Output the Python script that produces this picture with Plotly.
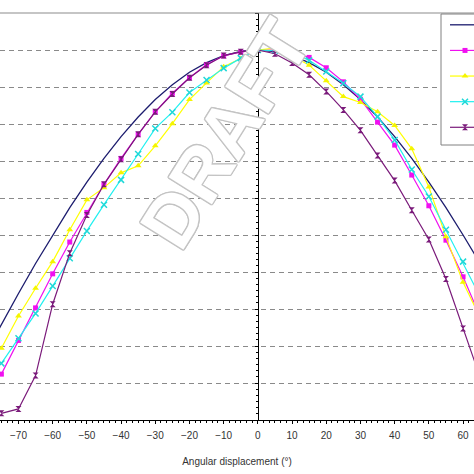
import plotly.graph_objects as go

# ---- data ----
angles_ref = [-80, -75, -70, -65, -60, -55, -50, -45, -40, -35, -30, -25, -20, -15, -10, -5,
              0, 5, 10, 15, 20, 25, 30, 35, 40, 45, 50, 55, 60, 65]
reference = [0.174, 0.259, 0.342, 0.423, 0.500, 0.574, 0.643, 0.707, 0.766, 0.819, 0.866, 0.906,
             0.940, 0.966, 0.985, 0.996, 1.000, 0.996, 0.985, 0.966, 0.940, 0.906, 0.866, 0.819,
             0.766, 0.707, 0.643, 0.574, 0.500, 0.423]

angles = [-75, -70, -65, -60, -55, -50, -45, -40, -35, -30, -25, -20, -15, -10, -5,
          0, 5, 10, 15, 20, 25, 30, 35, 40, 45, 50, 55, 60, 65]
series_a = [0.124, 0.215, 0.303, 0.395, 0.481, 0.561, 0.637, 0.707, 0.772, 0.833, 0.883, 0.925,
            0.961, 0.984, 0.995, 1.000, 1.000, 0.993, 0.980, 0.952, 0.914, 0.867, 0.805, 0.743,
            0.662, 0.579, 0.486, 0.387, 0.280]
series_b = [0.194, 0.281, 0.356, 0.428, 0.514, 0.595, 0.628, 0.668, 0.687, 0.741, 0.801, 0.866,
            0.911, 0.955, 0.977, 1.000, 1.005, 0.985, 0.959, 0.917, 0.874, 0.858, 0.833, 0.796,
            0.733, 0.630, 0.495, 0.372, 0.277]
series_c = [0.153, 0.221, 0.288, 0.362, 0.437, 0.511, 0.582, 0.649, 0.719, 0.788, 0.832, 0.885,
            0.919, 0.951, 0.978, 1.000, 0.998, 0.995, 0.972, 0.942, 0.910, 0.874, 0.820, 0.757,
            0.677, 0.604, 0.514, 0.428, 0.333]
series_d = [0.018, 0.030, 0.120, 0.313, 0.451, 0.554, 0.637, 0.705, 0.772, 0.833, 0.881, 0.925,
            0.959, 0.985, 0.995, 1.000, 0.990, 0.965, 0.933, 0.888, 0.838, 0.783, 0.715, 0.647,
            0.567, 0.488, 0.381, 0.247, 0.115]

# legend labels are cropped away in the reference; series ids kept for hover only
series_ids = ["Cosine", "Series 1", "Series 2", "Series 3", "Series 4"]

X_RANGE = [-75.4, 63.2]
Y_RANGE = [0, 1.1]
y_axis_pos = (0 - X_RANGE[0]) / (X_RANGE[1] - X_RANGE[0])

FIG_W = 474
FIG_H = 474
MT, MB = 13, 54
PLOT_H = FIG_H - MT - MB


def py(px):
    """page pixel (from top) -> paper y"""
    return (FIG_H - MB - px) / PLOT_H


blank = "\u00a0"
fig = go.Figure()
fig.add_trace(go.Scatter(x=angles_ref, y=reference, name=blank, mode="lines",
                         hovertemplate=series_ids[0] + ": %{y}<extra></extra>",
                         line=dict(color="#1c1c6e", width=1.3)))
fig.add_trace(go.Scatter(x=angles, y=series_a, name=blank, mode="lines+markers",
                         hovertemplate=series_ids[1] + ": %{y}<extra></extra>",
                         line=dict(color="#f010f0", width=1.2),
                         marker=dict(symbol="square", size=5, color="#f010f0")))
fig.add_trace(go.Scatter(x=angles, y=series_b, name=blank, mode="lines+markers",
                         hovertemplate=series_ids[2] + ": %{y}<extra></extra>",
                         line=dict(color="#ffff00", width=1.2),
                         marker=dict(symbol="triangle-up", size=6, color="#f5f500")))
fig.add_trace(go.Scatter(x=angles, y=series_c, name=blank, mode="lines+markers",
                         hovertemplate=series_ids[3] + ": %{y}<extra></extra>",
                         line=dict(color="#20f0f0", width=1.2),
                         marker=dict(symbol="x-thin", size=6, color="#20e0e0",
                                     line=dict(color="#20d8d8", width=1.5))))
fig.add_trace(go.Scatter(x=angles, y=series_d, name=blank, mode="lines+markers",
                         hovertemplate=series_ids[4] + ": %{y}<extra></extra>",
                         line=dict(color="#7a1a7a", width=1.2),
                         marker=dict(symbol="hourglass", size=6, color="#7a1a7a")))

tickfont = dict(family="Liberation Sans, Arial, sans-serif", size=10, color="#333333")

fig.update_layout(
    width=FIG_W, height=FIG_H,
    margin=dict(l=0, r=0, t=MT, b=MB, autoexpand=False),
    paper_bgcolor="white", plot_bgcolor="white",
    showlegend=True,
    legend=dict(x=445 / FIG_W, y=py(7), xanchor="left", yanchor="top",
                bgcolor="rgba(0,0,0,0)", borderwidth=0,
                font=dict(family="Liberation Sans, Arial, sans-serif", size=17.4, color="#333333"),
                tracegroupgap=0),
    xaxis=dict(range=X_RANGE, tick0=0, dtick=10, showgrid=False, zeroline=False,
               showline=True, linecolor="black", linewidth=1,
               ticks="outside", ticklen=3, tickcolor="black", tickwidth=1,
               minor=dict(ticks="outside", ticklen=2, dtick=10 / 6, tickcolor="black"),
               tickfont=tickfont, ticklabelstandoff=3,
               title=dict(text="Angular displacement (°)", font=tickfont, standoff=17),
               anchor="y"),
    xaxis2=dict(range=X_RANGE, overlaying="x", anchor="y", side="bottom",
                tick0=0, dtick=10, showgrid=False, zeroline=False, showline=False,
                ticks="inside", ticklen=3, tickcolor="black", showticklabels=False,
                minor=dict(ticks="inside", ticklen=2, dtick=10 / 6, tickcolor="black")),
    yaxis=dict(range=Y_RANGE, tick0=0, dtick=0.1, showgrid=True, gridcolor="#8a8a8a",
               gridwidth=1, griddash="5px,4px", zeroline=False, showticklabels=False,
               anchor="free", position=y_axis_pos,
               showline=True, linecolor="black", linewidth=1,
               ticks="outside", ticklen=3, tickcolor="black",
               minor=dict(ticks="outside", ticklen=2, dtick=0.1 / 6, tickcolor="black")),
    yaxis2=dict(range=Y_RANGE, overlaying="y", anchor="free", position=y_axis_pos,
                tick0=0, dtick=0.1, showgrid=False, zeroline=False, showline=False,
                showticklabels=False, ticks="inside", ticklen=3, tickcolor="black",
                minor=dict(ticks="inside", ticklen=2, dtick=0.1 / 6, tickcolor="black")),
    shapes=[
        dict(type="line", xref="paper", yref="paper", x0=0, x1=1, y0=1, y1=1,
             line=dict(color="#8c8c8c", width=1.2)),
        # legend frame (right part cropped in the reference)
        dict(type="rect", xref="paper", yref="paper", layer="above",
             x0=441 / FIG_W, x1=1.05, y0=py(145), y1=py(14),
             fillcolor="white", line=dict(color="#808080", width=1)),
    ],
    annotations=[dict(text="DRAFT", xref="paper", yref="paper",
                      x=225 / FIG_W, y=py(134), xanchor="center", yanchor="middle",
                      showarrow=False, textangle=-58,
                      font=dict(family="Liberation Sans, Arial, sans-serif", size=74,
                                weight="bold", color="white",
                                shadow="1px 1px 0 #c4c4c4, -1px -1px 0 #c4c4c4, 1px -1px 0 #c4c4c4, -1px 1px 0 #c4c4c4, 1.4px 0 0 #c4c4c4, -1.4px 0 0 #c4c4c4, 0 1.4px 0 #c4c4c4, 0 -1.4px 0 #c4c4c4"))],
)

fig.write_html("out.html",
               config={"displayModeBar": False},
               post_script="document.body.style.margin='0';document.body.style.overflow='hidden';")
